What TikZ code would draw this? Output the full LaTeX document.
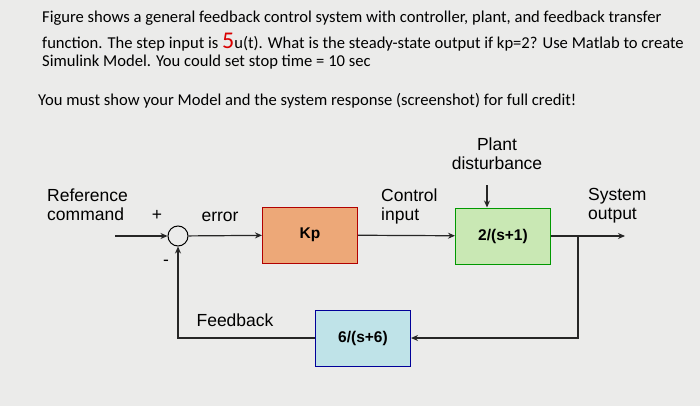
\documentclass[tikz,border=0pt]{standalone}
\usepackage{fontspec}
\setmainfont{Carlito}
\newfontfamily\diagfont{Liberation Sans}
\usetikzlibrary{arrows.meta}
\definecolor{paper}{HTML}{EBEBEA}
\definecolor{kpfill}{HTML}{EDA878}
\definecolor{plantfill}{HTML}{C9E8B4}
\definecolor{fbfill}{HTML}{BFE3E8}
\begin{document}
\begin{tikzpicture}[x=1pt, y=-1pt, >={Stealth[length=7pt,width=6pt]},
    every node/.style={font=\diagfont\fontsize{17.5}{19}\selectfont, inner sep=0pt},
    txt/.style={font=\fontsize{16.6}{18}\selectfont, anchor=west},
    block/.style={rectangle, draw, line width=1pt, minimum width=95pt, minimum height=56pt, font=\diagfont\bfseries\fontsize{15.5}{17}\selectfont},
    sig/.style={line width=1.2pt, draw=black!85}]
    \fill[paper] (0,0) rectangle (700,406);
    % question text
    \node[txt] (l1) at (42,18) {Figure shows a general feedback control system with controller, plant, and feedback transfer};
    \node[txt] (l2) at (42,42) {function. The step input is {\color{red!85!black}\fontsize{24}{24}\selectfont 5}u(t). What is the steady-state output if kp=2? Use Matlab to create};
    \node[txt] (l3) at (42,62) {Simulink Model. You could set stop time = 10 sec};
    \node[txt] (l4) at (38,101) {You must show your Model and the system response (screenshot) for full credit!};
    % blocks
    \node[circle, draw, line width=1pt, minimum size=20pt] (sum) at (178,236) {};
    \node[block, fill=kpfill, draw=red!70!black] (kp) at (310,235) {Kp};
    \node[block, fill=plantfill, draw=green!60!black] (plant) at (503,236) {2/(s+1)};
    \node[block, fill=fbfill, draw=blue!60!black] (fb) at (363,338) {6/(s+6)};
    \coordinate (in) at (115,236);
    \coordinate (out) at (625,236);
    \coordinate (tap) at (578,236);
    \coordinate (dist) at (487,185);
    % labels
    \node[align=left, anchor=west] (ref) at (47,205) {Reference\\command};
    \node (plus) at (157,215) {+};
    \node (minus) at (166,263) {-};
    \node (err) at (220,217) {error};
    \node[align=left, anchor=west] (ctl) at (381,206) {Control\\input};
    \node[align=center] (pd) at (497,154) {Plant\\disturbance};
    \node[align=left, anchor=west] (sysout) at (588,206) {System\\output};
    \node (fblab) at (235,320) {Feedback};
    % connectors
    \draw[sig, ->] (in) -- (sum);
    \draw[sig, ->] (sum) -- (kp);
    \draw[sig, ->] (kp) -- (plant);
    \draw[sig, ->] (plant) -- (out);
    \draw[sig, ->] (tap) |- (fb);
    \draw[sig, ->] (fb) -| (sum);
    \draw[sig, ->] (dist) -- (dist |- plant.north);
\end{tikzpicture}
\end{document}
